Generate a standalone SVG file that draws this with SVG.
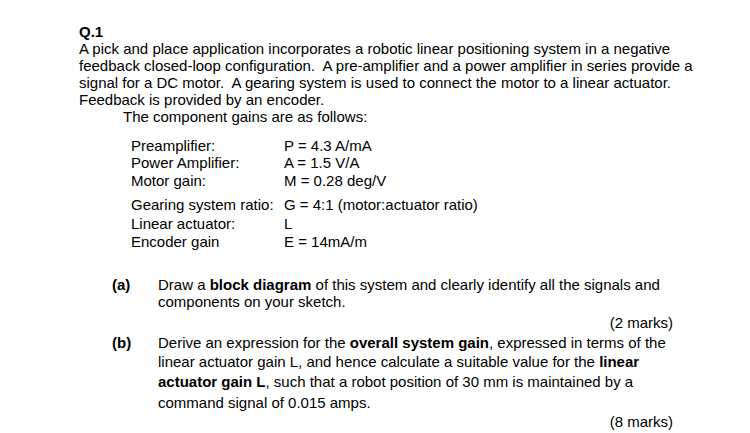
<svg xmlns="http://www.w3.org/2000/svg" width="750" height="433" viewBox="0 0 750 433" xml:space="preserve">
<style>
text{font-family:"Liberation Sans",Arial,sans-serif;font-size:15px;fill:#000;white-space:pre}
.b{font-weight:bold}
</style>
<rect width="750" height="433" fill="#fff"/>
<text x="79" y="37" class="b">Q.1</text>
<text x="79" y="54">A pick and place application incorporates a robotic linear positioning system in a negative</text>
<text x="79" y="71">feedback closed-loop configuration.  A pre-amplifier and a power amplifier in series provide a</text>
<text x="79" y="88">signal for a DC motor.  A gearing system is used to connect the motor to a linear actuator.</text>
<text x="79" y="105">Feedback is provided by an encoder.</text>
<text x="123" y="122">The component gains are as follows:</text>
<text x="131" y="151">Preamplifier:</text><text x="284" y="151">P = 4.3 A/mA</text>
<text x="131" y="168">Power Amplifier:</text><text x="284" y="168">A = 1.5 V/A</text>
<text x="131" y="186">Motor gain:</text><text x="284" y="186">M = 0.28 deg/V</text>
<text x="131" y="210">Gearing system ratio:</text><text x="284" y="210">G = 4:1 (motor:actuator ratio)</text>
<text x="131" y="229">Linear actuator:</text><text x="284" y="229">L</text>
<text x="131" y="247">Encoder gain</text><text x="284" y="247">E = 14mA/m</text>
<text x="112" y="290" class="b">(a)</text>
<text x="158" y="290">Draw a <tspan class="b">block diagram</tspan> of this system and clearly identify all the signals and</text>
<text x="158" y="307">components on your sketch.</text>
<text x="673" y="328" text-anchor="end">(2 marks)</text>
<text x="112" y="348" class="b">(b)</text>
<text x="158" y="348">Derive an expression for the <tspan class="b">overall system gain</tspan>, expressed in terms of the</text>
<text x="158" y="367">linear actuator gain L, and hence calculate a suitable value for the <tspan class="b">linear</tspan></text>
<text x="158" y="387"><tspan class="b">actuator gain L</tspan>, such that a robot position of 30 mm is maintained by a</text>
<text x="158" y="408">command signal of 0.015 amps.</text>
<text x="673" y="427" text-anchor="end">(8 marks)</text>
</svg>
